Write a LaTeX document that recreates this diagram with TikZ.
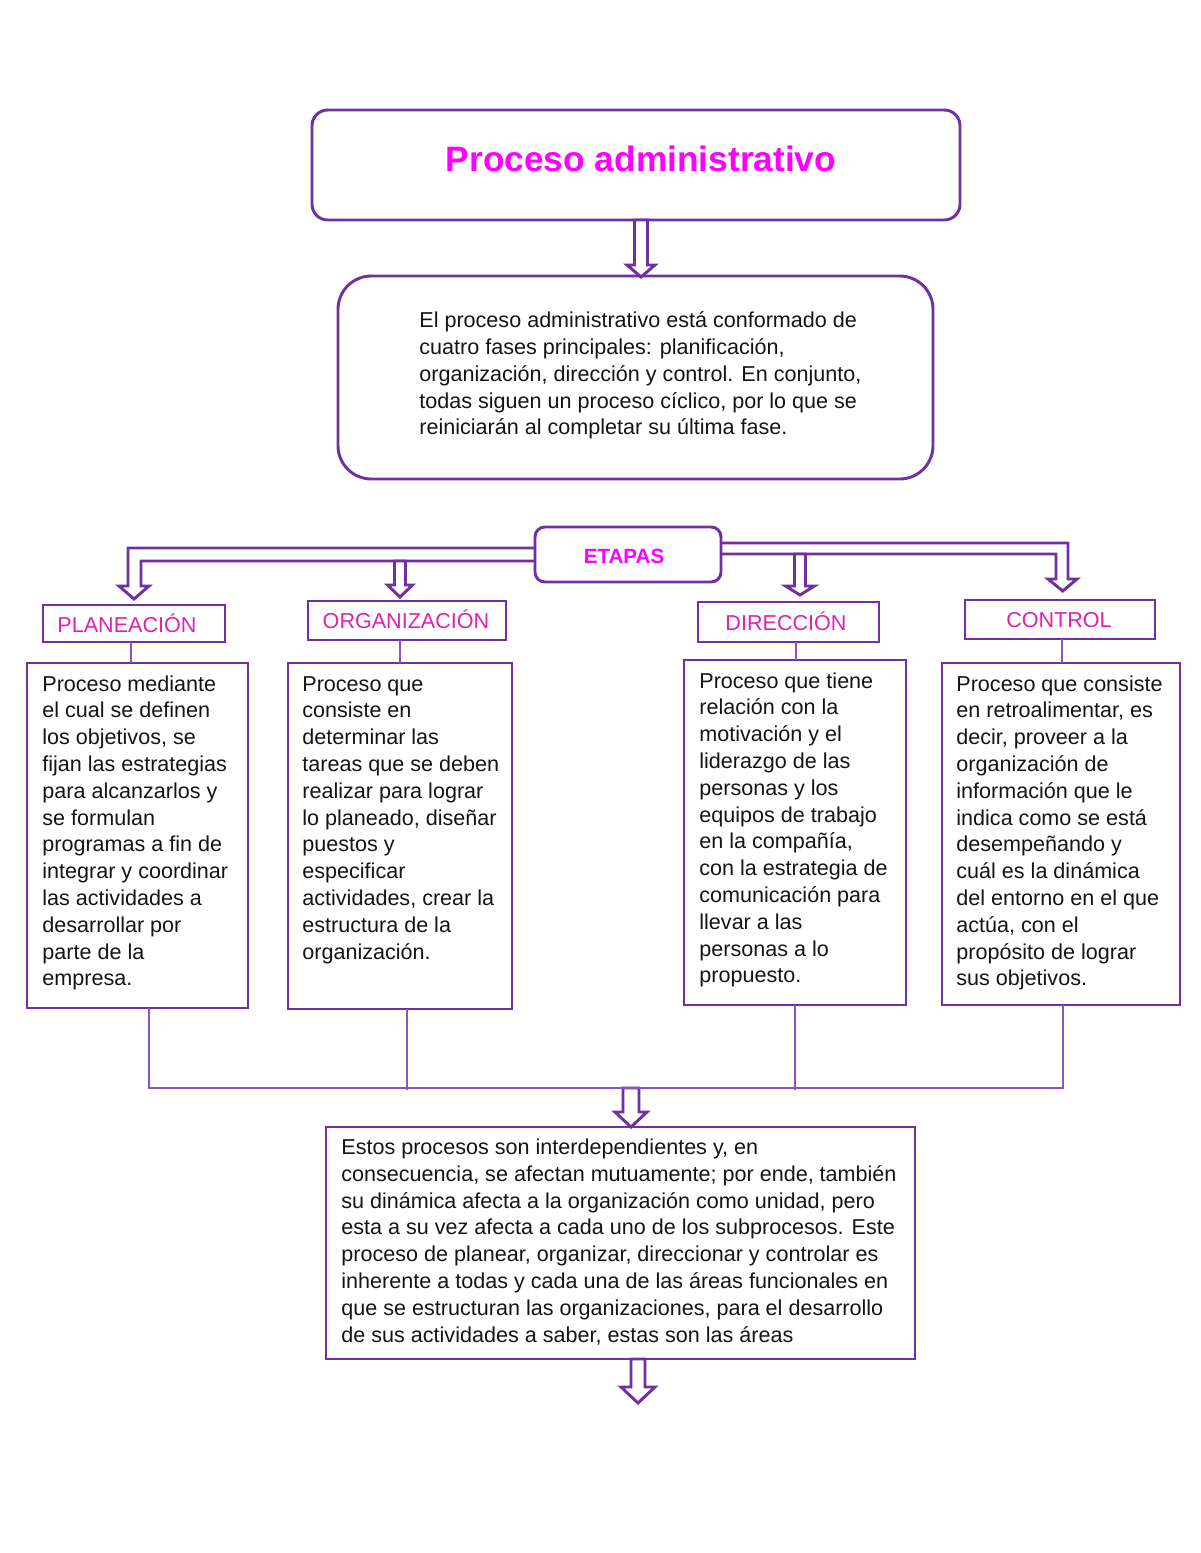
\documentclass[tikz,border=0pt]{standalone}
\usepackage{fontspec}
\setmainfont{Liberation Sans}
\usetikzlibrary{fit,calc}
\definecolor{purp}{HTML}{7030A0}
\definecolor{thinp}{HTML}{8A55C0}
\definecolor{lblc}{HTML}{E020B0}
\definecolor{ttl}{HTML}{FF00FF}
\definecolor{txt}{HTML}{141414}
\newcommand\fst{\rule{0pt}{10pt}}
% hollow down arrow: #1 top point, #2 tip, #3 shaft half width, #4 head half width, #5 head length (px)
\newcommand\harrow[5]{\draw[hollow,fill=white] let \p1=#1, \p2=#2 in
  (\x2-#3*0.51pt,\y1) -- (\x2-#3*0.51pt,\y2+#5*0.51pt) -- (\x2-#4*0.51pt,\y2+#5*0.51pt) -- (\x2,\y2)
  -- (\x2+#4*0.51pt,\y2+#5*0.51pt) -- (\x2+#3*0.51pt,\y2+#5*0.51pt) -- (\x2+#3*0.51pt,\y1) -- cycle;}
\begin{document}
\begin{tikzpicture}[x=0.51pt,y=-0.51pt,
  box/.style={draw=purp, line width=1.5pt, inner sep=0pt, outer sep=0pt},
  lbl/.style={text=lblc, font=\fontsize{11pt}{13pt}\selectfont, anchor=base, inner sep=0pt},
  body/.style={text=txt, font=\fontsize{11pt}{13.67pt}\selectfont, anchor=north west, inner sep=0pt, align=left},
  thinc/.style={draw=thinp, line width=0.75pt},
  hollow/.style={draw=purp, line width=1.5pt, line join=miter}]
\useasboundingbox (0,0) rectangle (1200,1553);

% top boxes
\node[box, rounded corners=8pt, fit={(312,110) (960,220)}] (title) {};
\node[text=ttl, font=\fontsize{18pt}{20pt}\selectfont\bfseries, anchor=base, inner sep=0pt] (titletxt) at (641,172) {Proceso administrativo};
\node[box, rounded corners=17pt, fit={(338,276) (933,479)}] (desc) {};
\node[body] (desctxt) at (419,307.7) {\fst El proceso administrativo está conformado de\\
cuatro fases principales: planificación,\\
organización, dirección y control. En conjunto,\\
todas siguen un proceso cíclico, por lo que se\\
reiniciarán al completar su última fase.};

\node[box, rounded corners=5pt, fit={(535,527) (721,582)}] (etapas) {};
\node[text=ttl, font=\fontsize{10.5pt}{12pt}\selectfont\bfseries, anchor=base, inner sep=0pt] (etapastxt) at (624,563) {ETAPAS};

% label boxes
\node[box, fit={(43,605) (225,642)}] (planL) {};
\node[lbl] (planLt) at (127,632) {PLANEACIÓN};
\node[box, fit={(308,601) (506,640)}] (orgL) {};
\node[lbl] (orgLt) at (406,628) {ORGANIZACIÓN};
\node[box, fit={(698,602) (879,642)}] (dirL) {};
\node[lbl] (dirLt) at (786,630) {DIRECCIÓN};
\node[box, fit={(965,600) (1155,639)}] (ctrlL) {};
\node[lbl] (ctrlLt) at (1059,627) {CONTROL};

% content boxes
\node[box, fit={(27,663) (248,1008)}] (planB) {};
\node[body] (planT) at (42,671.1) {\fst Proceso mediante\\
el cual se definen\\
los objetivos, se\\
fijan las estrategias\\
para alcanzarlos y\\
se formulan\\
programas a fin de\\
integrar y coordinar\\
las actividades a\\
desarrollar por\\
parte de la\\
empresa.};
\node[box, fit={(288,663) (512,1009)}] (orgB) {};
\node[body] (orgT) at (302,671.1) {\fst Proceso que\\
consiste en\\
determinar las\\
tareas que se deben\\
realizar para lograr\\
lo planeado, diseñar\\
puestos y\\
especificar\\
actividades, crear la\\
estructura de la\\
organización.};
\node[box, fit={(684,660) (906,1005)}] (dirB) {};
\node[body] (dirT) at (699,668.1) {\fst Proceso que tiene\\
relación con la\\
motivación y el\\
liderazgo de las\\
personas y los\\
equipos de trabajo\\
en la compañía,\\
con la estrategia de\\
comunicación para\\
llevar a las\\
personas a lo\\
propuesto.};
\node[box, fit={(942,663) (1180,1005)}] (ctrlB) {};
\node[body] (ctrlT) at (956,671.1) {\fst Proceso que consiste\\
en retroalimentar, es\\
decir, proveer a la\\
organización de\\
información que le\\
indica como se está\\
desempeñando y\\
cuál es la dinámica\\
del entorno en el que\\
actúa, con el\\
propósito de lograr\\
sus objetivos.};

% final box
\node[box, fit={(326,1127) (915,1359)}] (finB) {};
\node[body] (finT) at (341,1134.4) {\fst Estos procesos son interdependientes y, en\\
consecuencia, se afectan mutuamente; por ende, también\\
su dinámica afecta a la organización como unidad, pero\\
esta a su vez afecta a cada uno de los subprocesos. Este\\
proceso de planear, organizar, direccionar y controlar es\\
inherente a todas y cada una de las áreas funcionales en\\
que se estructuran las organizaciones, para el desarrollo\\
de sus actividades a saber, estas son las áreas};

% coordinates
\coordinate (xpl) at (131,0);
\coordinate (xor) at (400,0);
\coordinate (xdi) at (796,0);
\coordinate (xct) at (1062,0);
\coordinate (busL) at (149,1088);
\coordinate (busR) at (1063,1088);
\coordinate (xb2) at (407,0);
\coordinate (xb3) at (795,0);
\coordinate (orgTop) at (400,561);
\coordinate (dirTop) at (800,554);
\coordinate (finTop) at (631,1088);
\coordinate (endpt) at (638,1403);

% hollow connector from ETAPAS to PLANEACIÓN
\draw[hollow] ($(etapas.west)+(0,-6.5)$) -- (128,548) -- (128,586) -- (119,586) -- ($(planL.north)+(0,-6)$)
  -- (149,586) -- (141,586) -- (141,561) -- ($(etapas.west)+(0,6.5)$);
% hollow connector from ETAPAS to CONTROL
\draw[hollow] ($(etapas.east)+(0,-11.5)$) -- (1068,543) -- (1068,579) -- (1077,579) -- ($(ctrlL.north)+(2.7,-9)$)
  -- (1048,579) -- (1056,579) -- (1056,554) -- ($(etapas.east)+(0,-0.5)$);

% hollow arrows
\harrow{(title.south)}{($(desc.north)+(5.5,1)$)}{6.5}{14}{12}
\harrow{(orgTop)}{($(orgL.north)+(-7,-4)$)}{5.5}{12.5}{12}
\harrow{(dirTop)}{($(dirL.north)+(11.5,-7)$)}{5.5}{14.5}{9}
\harrow{(finTop)}{($(finB.north)+(10.5,0)$)}{8}{16}{15}
\harrow{(finB.south)}{(endpt)}{7}{17}{16}

% thin connectors label -> content
\draw[thinc] (planL.south -| xpl) -- (planB.north -| xpl);
\draw[thinc] (orgL.south -| xor) -- (orgB.north -| xor);
\draw[thinc] (dirL.south -| xdi) -- (dirB.north -| xdi);
\draw[thinc] (ctrlL.south -| xct) -- (ctrlB.north -| xct);

% bottom bus
\draw[thinc] (planB.south -| busL) -- (busL) -- (busR) -- (ctrlB.south -| busR);
\draw[thinc] (orgB.south -| xb2) -- ($(busL -| xb2)+(0,2)$);
\draw[thinc] (dirB.south -| xb3) -- ($(busL -| xb3)+(0,2)$);
\end{tikzpicture}
\end{document}
